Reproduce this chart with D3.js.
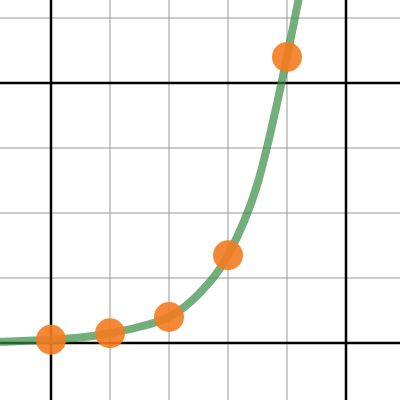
<!DOCTYPE html>
<html><head><meta charset="utf-8">
<script src="https://cdn.jsdelivr.net/npm/d3@7"></script>
<style>body{margin:0}svg{display:block}</style></head>
<body><svg id="c" width="400" height="400"></svg>
<script>
const pointX = [0, 1, 2, 3, 4];
const pointY = [1, 3, 8, 27, 88];
const curveX = [-0.9, -0.5, 0, 0.5, 1, 1.5, 2, 2.5, 3, 3.5, 4, 4.2];
const curveY = [0.35, 0.6, 1, 1.7, 3, 5, 8, 15, 27, 49, 88, 106];
const xTicks = [-1, 0, 1, 2, 3, 4, 5, 6];
const yTicks = [-20, 0, 20, 40, 60, 80, 100];
const majorX = [0, 5];
const majorY = [0, 80];

const W = 400, H = 400;
const x = d3.scaleLinear().domain([-51/59, 349/59]).range([0, W]);
const y = d3.scaleLinear().domain([-57/3.25, 343/3.25]).range([H, 0]);
const svg = d3.select('#c');
svg.append('rect').attr('width', W).attr('height', H).attr('fill', '#fff');
svg.selectAll('.gx').data(xTicks).enter().append('line')
  .attr('x1', d => x(d)).attr('x2', d => x(d)).attr('y1', 0).attr('y2', H)
  .attr('stroke', '#999').attr('stroke-width', 1);
svg.selectAll('.gy').data(yTicks).enter().append('line')
  .attr('y1', d => y(d)).attr('y2', d => y(d)).attr('x1', 0).attr('x2', W)
  .attr('stroke', '#999').attr('stroke-width', 1);
svg.selectAll('.mx').data(majorX).enter().append('line')
  .attr('x1', d => x(d)).attr('x2', d => x(d)).attr('y1', 0).attr('y2', H)
  .attr('stroke', '#000').attr('stroke-width', 2.5);
svg.selectAll('.my').data(majorY).enter().append('line')
  .attr('y1', d => y(d)).attr('y2', d => y(d)).attr('x1', 0).attr('x2', W)
  .attr('stroke', '#000').attr('stroke-width', 2.5);
const line = d3.line().x((d, i) => x(curveX[i])).y(d => y(d)).curve(d3.curveMonotoneX);
svg.append('path').datum(curveY).attr('d', line).attr('fill', 'none')
  .attr('stroke', '#388c46').attr('stroke-opacity', 0.7).attr('stroke-width', 8);
svg.selectAll('.pt').data(pointX).enter().append('circle')
  .attr('cx', d => x(d)).attr('cy', (d, i) => y(pointY[i])).attr('r', 15)
  .attr('fill', '#f47b20').attr('fill-opacity', 0.9);
</script></body></html>
